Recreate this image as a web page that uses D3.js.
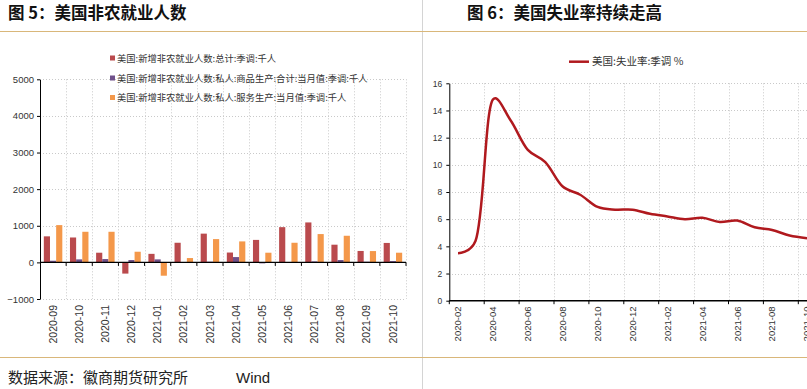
<!DOCTYPE html>
<html>
<head>
<meta charset="utf-8">
<style>
body {
  margin: 0;
  background-color: white;
}
.grid line {
  stroke: #c9c9c9;
  stroke-dasharray: 1,2;
}
.axis path, .axis line {
  stroke: black;
}
.axis text {
  font-family: "Liberation Sans", Arial, sans-serif;
  fill: #333;
}
</style>
<script src="https://d3js.org/d3.v7.min.js"></script>
</head>
<body>
<script>
// left chart: nonfarm payrolls (thousand, s.a.)
var barMonths = ["2020-09","2020-10","2020-11","2020-12","2021-01","2021-02","2021-03",
                 "2021-04","2021-05","2021-06","2021-07","2021-08","2021-09","2021-10"];
var totalJobs = [711, 680, 264, -306, 233, 536, 785, 269, 614, 962, 1091, 483, 312, 531];
var goodsJobs = [45, 82, 91, 64, 82, -9, 18, 145, -27, 9, 27, 64, 18, 36];
var serviceJobs = [1018, 836, 836, 291, -364, 118, 636, 573, 264, 536, 773, 727, 309, 264];
var barNames = ["美国:新增非农就业人数:总计:季调:千人",
                "美国:新增非农就业人数:私人:商品生产:合计:当月值:季调:千人",
                "美国:新增非农就业人数:私人:服务生产:当月值:季调:千人"];
var barTicks = [5000, 4000, 3000, 2000, 1000, 0, -1000];

// right chart: unemployment rate (%)
var rateMonths = ["2020-02","2020-03","2020-04","2020-05","2020-06","2020-07","2020-08",
                  "2020-09","2020-10","2020-11","2020-12","2021-01","2021-02","2021-03",
                  "2021-04","2021-05","2021-06","2021-07","2021-08","2021-09","2021-10"];
var rate = [3.5, 4.4, 14.8, 13.3, 11.1, 10.2, 8.4, 7.8, 6.9, 6.7, 6.7, 6.4, 6.2, 6.0,
            6.1, 5.8, 5.9, 5.4, 5.2, 4.8, 4.6];
var rateName = "美国:失业率:季调 %";
var rateTicks = [0, 2, 4, 6, 8, 10, 12, 14, 16];

var cjk = '"Noto Sans CJK SC", sans-serif';
var colors = ["#BA4A4D", "#70518A", "#F4984A"];

var svg = d3.select("body").append("svg").attr("width", 807).attr("height", 389);

// frame: titles and rules
svg.append("line").attr("x1", 422.5).attr("x2", 422.5).attr("y1", 0).attr("y2", 389)
   .attr("stroke", "#d4d4d4");
[31, 357].forEach(function(y) {
  svg.append("line").attr("x1", 0).attr("x2", 807).attr("y1", y + 0.5).attr("y2", y + 0.5)
     .attr("stroke", "#d9b77a").attr("stroke-width", 1.2);
});
svg.append("text").attr("x", 8).attr("y", 18.5).text("图 5：美国非农就业人数")
   .style("font-family", cjk).style("font-weight", "bold").style("font-size", "16.5px").attr("fill", "#111");
svg.append("text").attr("x", 467).attr("y", 18.5).text("图 6：美国失业率持续走高")
   .style("font-family", cjk).style("font-weight", "bold").style("font-size", "16.5px").attr("fill", "#111");
svg.append("text").attr("x", 8).attr("y", 383).text("数据来源：徽商期货研究所")
   .style("font-family", cjk).style("font-size", "15px").attr("fill", "#222");
svg.append("text").attr("x", 236).attr("y", 383).text("Wind")
   .style("font-family", '"Liberation Sans", Arial, sans-serif').style("font-size", "15px").attr("fill", "#222");

// ---------- left: grouped bars ----------
var x = d3.scaleBand().domain(barMonths).range([40, 406]);
var x1 = d3.scaleBand().domain([0, 1, 2]).range([0, x.bandwidth()]).paddingOuter(0.62);
var y = d3.scaleLinear().domain([-1000, 5000]).range([299, 79.3]);

var g1 = svg.append("g");
g1.append("g").attr("class", "grid").selectAll("line")
  .data(barTicks.filter(function(d) { return d != 0; })).enter().append("line")
  .attr("x1", 40).attr("x2", 406)
  .attr("y1", function(d) { return Math.round(y(d)) + 0.5; })
  .attr("y2", function(d) { return Math.round(y(d)) + 0.5; });
g1.append("g").attr("class", "grid").selectAll("line")
  .data(barMonths).enter().append("line")
  .attr("x1", function(d) { return Math.round(x(d) + x.bandwidth()) + 0.5; })
  .attr("x2", function(d) { return Math.round(x(d) + x.bandwidth()) + 0.5; })
  .attr("y1", 79.3).attr("y2", 299);

var series = [totalJobs, goodsJobs, serviceJobs];
series.forEach(function(vals, k) {
  g1.append("g").selectAll("rect").data(vals).enter().append("rect")
    .attr("x", function(d, i) { return x(barMonths[i]) + x1(k); })
    .attr("width", x1.bandwidth())
    .attr("y", function(d) { return y(Math.max(0, d)); })
    .attr("height", function(d) { return Math.abs(y(d) - y(0)); })
    .attr("fill", colors[k]);
});

g1.append("g").attr("class", "axis").attr("transform", "translate(40,0)")
  .call(d3.axisLeft(y).tickValues(barTicks).tickFormat(d3.format("d")).tickSize(3).tickSizeOuter(0).tickPadding(3))
  .selectAll("text").style("font-size", "9.5px");

// zero axis with ticks on band edges
var xa = g1.append("g").attr("class", "axis");
xa.append("line").attr("x1", 40).attr("x2", 406).attr("y1", y(0)).attr("y2", y(0)).attr("stroke-width", 1.4);
xa.selectAll(".tk").data(barMonths).enter().append("line").attr("class", "tk")
  .attr("x1", function(d) { return x(d) + x.bandwidth(); })
  .attr("x2", function(d) { return x(d) + x.bandwidth(); })
  .attr("y1", y(0)).attr("y2", y(0) + 3.5);
xa.selectAll("text").data(barMonths).enter().append("text")
  .attr("transform", function(d) { return "translate(" + (x(d) + x.bandwidth() / 2) + ",305) rotate(-90)"; })
  .attr("text-anchor", "end").attr("dy", "0.35em")
  .style("font-size", "10.5px").text(function(d) { return d; });

var leg = g1.append("g");
barNames.forEach(function(n, k) {
  var ly = [58.5, 78.5, 98][k];
  leg.append("rect").attr("x", 110).attr("y", ly - 3).attr("width", 5).attr("height", 5).attr("fill", colors[k]);
  leg.append("text").attr("x", 117).attr("y", ly).attr("dy", "0.35em").text(n)
     .style("font-family", cjk).style("font-size", "9.3px").attr("fill", "#333");
});

// ---------- right: unemployment line ----------
var xr = d3.scaleBand().domain(rateMonths).range([449.3, 449.3 + 21 * 17.45]);
var yr = d3.scaleLinear().domain([0, 16]).range([300.7, 83.3]);
var labelMonths = rateMonths.filter(function(d, i) { return i % 2 == 0; });

var g2 = svg.append("g");
g2.append("g").attr("class", "grid").selectAll("line")
  .data(rateTicks.slice(1)).enter().append("line")
  .attr("x1", 449).attr("x2", 807)
  .attr("y1", function(d) { return Math.round(yr(d)) + 0.5; })
  .attr("y2", function(d) { return Math.round(yr(d)) + 0.5; });
g2.append("g").attr("class", "grid").selectAll("line")
  .data(labelMonths.slice(1)).enter().append("line")
  .attr("x1", function(d) { return Math.round(xr(d)) + 0.5; })
  .attr("x2", function(d) { return Math.round(xr(d)) + 0.5; })
  .attr("y1", 83.3).attr("y2", 300.7);

g2.append("g").attr("class", "axis").attr("transform", "translate(449.3,0)")
  .call(d3.axisLeft(yr).tickValues(rateTicks).tickSize(3).tickSizeOuter(0).tickPadding(4))
  .selectAll("text").style("font-size", "8.5px");

var xra = g2.append("g").attr("class", "axis");
xra.append("line").attr("x1", 449.3).attr("x2", 807).attr("y1", yr(0)).attr("y2", yr(0)).attr("stroke-width", 1.4);
xra.selectAll(".tk").data(labelMonths).enter().append("line").attr("class", "tk")
  .attr("x1", function(d) { return xr(d); }).attr("x2", function(d) { return xr(d); })
  .attr("y1", yr(0)).attr("y2", yr(0) + 3.5);
xra.selectAll("text").data(labelMonths).enter().append("text")
  .attr("transform", function(d) { return "translate(" + (xr(d) + xr.bandwidth() / 2) + ",306.5) rotate(-90)"; })
  .attr("text-anchor", "end").attr("dy", "0.35em")
  .style("font-size", "9.5px").text(function(d) { return d; });

var line = d3.line()
  .x(function(d, i) { return xr(rateMonths[i]) + xr.bandwidth() / 2; })
  .y(function(d) { return yr(d); })
  .curve(d3.curveCatmullRom.alpha(0.3));
g2.append("path").datum(rate)
  .attr("fill", "none").attr("stroke", "#B0191E").attr("stroke-width", 2.5)
  .attr("stroke-linejoin", "round").attr("d", line);

g2.append("line").attr("x1", 569).attr("x2", 589).attr("y1", 61.7).attr("y2", 61.7)
  .attr("stroke", "#B0191E").attr("stroke-width", 2.5);
g2.append("text").attr("x", 592).attr("y", 61.7).attr("dy", "0.35em").text(rateName)
  .style("font-family", cjk).style("font-size", "10.5px").attr("fill", "#333");
</script>
</body>
</html>
